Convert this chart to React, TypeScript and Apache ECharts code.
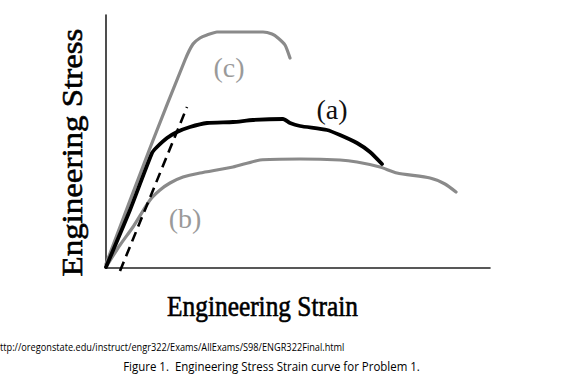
import React, { useEffect, useRef } from "react";
import * as echarts from "echarts";

// Curve (c): high strength, low ductility
const curveCStrain = [0, 44, 79, 87, 94, 101, 111, 157, 166, 172, 179, 184];
const curveCStress = [4, 120, 208, 224, 230, 233, 236, 236, 234, 230, 223, 210];

// Curve (a): intermediate
const curveAStrain = [0, 24, 46, 51, 61, 71, 84, 101, 127, 147, 177, 184, 194, 221, 234, 251, 264, 276];
const curveAStress = [1, 58, 115, 121, 130, 136, 141, 145, 146, 148, 149, 145, 142, 138, 133, 125, 116, 104];

// Curve (b): low strength, high ductility
const curveBStrain = [0, 14, 27, 44, 54, 64, 77, 94, 127, 154, 194, 234, 251, 274, 291, 324, 339, 350];
const curveBStress = [1, 23, 41, 68, 78, 85, 91, 95, 101, 108, 109, 108, 106, 101, 95, 90, 84, 76];

// 0.2% offset line (dashed)
const offsetStrain = [14, 81];
const offsetStress = [-3, 161];

const curveLabels = ["(a)", "(b)", "(c)"];
const xTitle = "Engineering Strain";
const yTitle = "Engineering Stress";
const sourceText = "http://oregonstate.edu/instruct/engr322/Exams/AllExams/S98/ENGR322Final.html";
const captionText = "Figure 1.  Engineering Stress Strain curve for Problem 1.";

const zip = (xs: number[], ys: number[]) => xs.map((x, i) => [x, ys[i]]);

function measure(text: string, font: string): number {
  const ctx = document.createElement("canvas").getContext("2d");
  if (!ctx) return text.length * 7;
  ctx.font = font;
  return ctx.measureText(text).width;
}

export default function App() {
  const ref = useRef<HTMLDivElement>(null);

  useEffect(() => {
    if (!ref.current) return;
    const chart = echarts.init(ref.current, null, { renderer: "svg" });

    const serif = '"Liberation Serif", "Times New Roman", serif';
    const sans = '"Open Sans", "Liberation Sans", sans-serif';

    const xFont = 29;
    const yFont = 30;
    const capFont = 13;
    const urlFont = 11;
    const xScale = 191 / measure(xTitle, `${xFont}px ${serif}`);
    const yScale = 248 / measure(yTitle, `${yFont}px ${serif}`);
    const capScale = 297 / measure(captionText, `${capFont}px ${sans}`);
    const hW = measure("h", `${urlFont}px ${sans}`);
    const urlScale = 345 / (measure(sourceText, `${urlFont}px ${sans}`) - hW);

    chart.setOption({
      animation: false,
      backgroundColor: "#ffffff",
      grid: { left: 106, top: 15, width: 384, height: 253, containLabel: false },
      xAxis: {
        type: "value",
        min: 0,
        max: 384,
        axisLine: { show: true, lineStyle: { color: "#222", width: 1.6 } },
        axisTick: { show: false },
        axisLabel: { show: false },
        splitLine: { show: false },
      },
      yAxis: {
        type: "value",
        min: 0,
        max: 253,
        axisLine: { show: true, lineStyle: { color: "#222", width: 1.6 } },
        axisTick: { show: false },
        axisLabel: { show: false },
        splitLine: { show: false },
      },
      series: [
        {
          type: "line",
          data: zip(curveBStrain, curveBStress),
          showSymbol: false,
          smooth: 0.2,
          lineStyle: { color: "#8a8a8a", width: 3.2, cap: "round", join: "round" },
          silent: true,
        },
        {
          type: "line",
          data: zip(curveCStrain, curveCStress),
          showSymbol: false,
          smooth: 0.2,
          lineStyle: { color: "#8a8a8a", width: 3.2, cap: "round", join: "round" },
          silent: true,
        },
        {
          type: "line",
          data: zip(curveAStrain, curveAStress),
          showSymbol: false,
          smooth: 0.2,
          lineStyle: { color: "#000000", width: 3.8, cap: "round", join: "round" },
          silent: true,
        },
        {
          type: "line",
          data: zip(offsetStrain, offsetStress),
          showSymbol: false,
          clip: false,
          lineStyle: { color: "#000000", width: 2.6, type: [10, 6] },
          silent: true,
        },
      ],
      graphic: [
        {
          type: "text",
          x: 332,
          y: 109,
          style: { text: curveLabels[0], font: `28px ${serif}`, fill: "#111", align: "center", verticalAlign: "middle" },
        },
        {
          type: "text",
          x: 185,
          y: 218,
          style: { text: curveLabels[1], font: `28px ${serif}`, fill: "#9a9a9a", align: "center", verticalAlign: "middle" },
        },
        {
          type: "text",
          x: 229,
          y: 67,
          style: { text: curveLabels[2], font: `28px ${serif}`, fill: "#9a9a9a", align: "center", verticalAlign: "middle" },
        },
        {
          type: "text",
          x: 262.5,
          y: 306.5,
          scaleX: xScale,
          style: {
            text: xTitle,
            font: `${xFont}px ${serif}`,
            fill: "#000",
            stroke: "#000",
            lineWidth: 0.6,
            align: "center",
            verticalAlign: "middle",
          },
        },
        {
          type: "text",
          x: 71.6,
          y: 152.5,
          rotation: Math.PI / 2,
          scaleX: yScale,
          style: {
            text: yTitle,
            font: `${yFont}px ${serif}`,
            fill: "#000",
            stroke: "#000",
            lineWidth: 0.6,
            align: "center",
            verticalAlign: "middle",
          },
        },
        {
          type: "text",
          x: -hW * urlScale,
          y: 347,
          scaleX: urlScale,
          style: { text: sourceText, font: `${urlFont}px ${sans}`, fill: "#000", align: "left", verticalAlign: "middle" },
        },
        {
          type: "text",
          x: 271.5,
          y: 366,
          scaleX: capScale,
          style: { text: captionText, font: `${capFont}px ${sans}`, fill: "#000", align: "center", verticalAlign: "middle" },
        },
      ],
    });

    return () => chart.dispose();
  }, []);

  return (
    <div
      ref={ref}
      style={{ position: "absolute", left: 0, top: 0, width: 578, height: 377, background: "#fff" }}
    />
  );
}
